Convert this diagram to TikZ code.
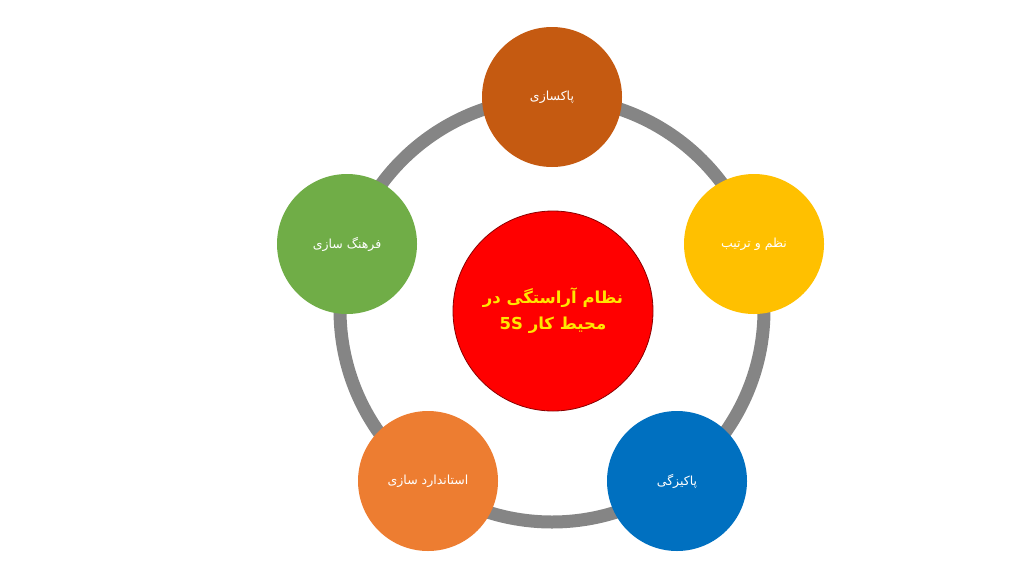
\documentclass[tikz,border=0pt]{standalone}
\usepackage{fontspec}
\TeXXeTstate=1
\newfontfamily\arabicfont[Script=Arabic]{DejaVu Sans}
\definecolor{ringgray}{HTML}{858585}
\definecolor{cTop}{HTML}{C55A11}
\definecolor{cRight}{HTML}{FFC000}
\definecolor{cBR}{HTML}{0070C0}
\definecolor{cBL}{HTML}{ED7D31}
\definecolor{cLeft}{HTML}{70AD47}
\definecolor{centerText}{HTML}{FFE600}
\definecolor{centerEdge}{HTML}{8B0000}
\tikzset{
  sbox/.style={circle, minimum size=140pt, inner sep=0pt, text=white,
    font=\arabicfont\fontsize{12.5}{14}\selectfont, align=center},
  hub/.style={circle, minimum size=200pt, inner sep=0pt, fill=red, draw=centerEdge,
    line width=0.8pt, text=centerText, font=\arabicfont\bfseries\fontsize{16.5}{26}\selectfont, align=center},
  ring/.style={draw=ringgray, line width=13pt}
}
\begin{document}
\begin{tikzpicture}[x=1pt,y=-1pt]
\useasboundingbox (0,0) rectangle (1024,576);
\coordinate (rc) at (552,310);
\draw[ring] (rc) circle[radius=212pt];
\node[hub] (hub) at (553,311) {\beginR نظام آراستگی در\endR\\ \beginR محیط کار \beginL5S\endL\endR};
\node[sbox, fill=cTop] (s1) at (552,97) {\beginR پاکسازی\endR};
\node[sbox, fill=cRight] (s2) at (754,244) {\beginR نظم و ترتیب\endR};
\node[sbox, fill=cBR] (s3) at (677,481) {\beginR پاکیزگی\endR};
\node[sbox, fill=cBL] (s4) at (428,481) {\beginR استاندارد سازی\endR};
\node[sbox, fill=cLeft] (s5) at (347,244) {\beginR فرهنگ سازی\endR};
\end{tikzpicture}
\end{document}
